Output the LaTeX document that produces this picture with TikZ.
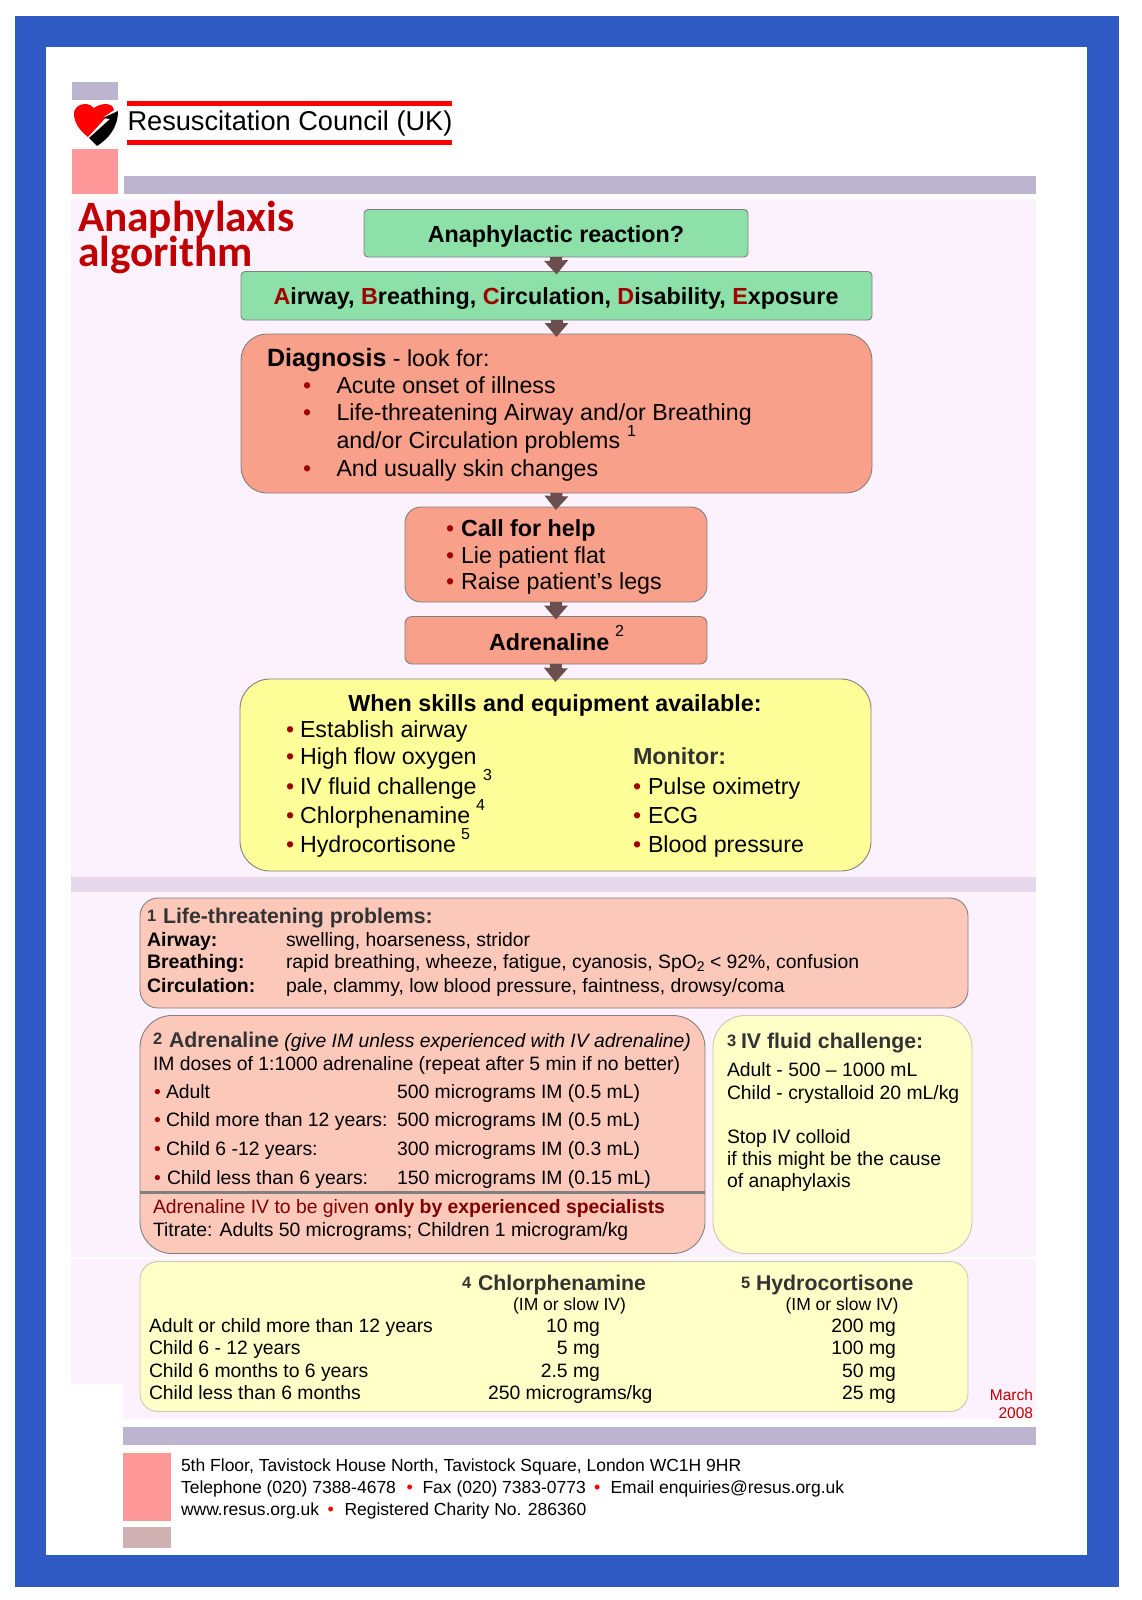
\documentclass[tikz,border=0pt]{standalone}
\usepackage{fontspec}
\setmainfont{Liberation Sans}
\newfontfamily\titlefont{Carlito}
\usetikzlibrary{arrows.meta}
\definecolor{frameblue}{HTML}{2F5AC3}
\definecolor{lav}{HTML}{BDB5D0}
\definecolor{pinkbar}{HTML}{FF9999}
\definecolor{rose}{HTML}{D0B2B2}
\definecolor{bgpink}{HTML}{FBF2FE}
\definecolor{sepbar}{HTML}{E6D8EA}
\definecolor{grn}{HTML}{8DE0A8}
\definecolor{salmon}{HTML}{F9A08A}
\definecolor{yel}{HTML}{FFFF99}
\definecolor{lsalmon}{HTML}{FBC8BA}
\definecolor{lyel}{HTML}{FFFFC8}
\definecolor{dred}{HTML}{A00000}
\definecolor{tred}{HTML}{C00000}
\definecolor{arrowc}{HTML}{6B4F4F}
\definecolor{dgray}{HTML}{333333}
\definecolor{lborder}{HTML}{C8C8B4}
\tikzset{
  box/.style={draw=black!50,line width=0.9pt,anchor=north west,inner sep=0pt,outer sep=0pt},
  flow/.style={draw=arrowc,line width=12pt,-{Triangle[width=23pt,length=14pt,fill=arrowc]},shorten >=-3pt},
  tl/.style={anchor=base west,inner sep=0pt,outer sep=0pt,text=black},
  tc/.style={tl,anchor=base},
  tr/.style={tl,anchor=base east},
  big/.style={font=\fontsize{23.2}{27}\selectfont},
  bigb/.style={font=\bfseries\fontsize{23.3}{26}\selectfont},
  mid/.style={font=\fontsize{19.35}{23}\selectfont},
  midb/.style={font=\bfseries\fontsize{19.5}{23}\selectfont},
  head/.style={text=dgray,font=\bfseries\fontsize{21.3}{25}\selectfont},
  num/.style={text=dgray,font=\bfseries\fontsize{16.5}{18}\selectfont},
  sml/.style={font=\fontsize{17.5}{21}\selectfont},
  smlb/.style={text=red,font=\fontsize{18}{21}\selectfont},
  sup/.style={font=\fontsize{16}{18}\selectfont},
  blt/.style={text=dred},
  ttl/.style={tl,text=tred,font=\titlefont\bfseries\fontsize{43.3}{46}\selectfont},
}
\begin{document}
\begin{tikzpicture}[x=1pt,y=-1pt]
\useasboundingbox (0,0) rectangle (1142,1600);
% frame
\fill[frameblue] (15,16) rectangle (1119,1587);
\fill[white] (46,47) rectangle (1087,1555);
% background panels
\fill[bgpink] (71,199) rectangle (1036,1384);
\fill[bgpink] (123,1384) rectangle (1036,1419);
\fill[white] (71,1257) rectangle (1036,1259);
\fill[sepbar] (71,877) rectangle (1036,892);
% bars
\fill[lav] (72,82) rectangle (118,100);
\fill[pinkbar] (72,149) rectangle (118,194);
\fill[lav] (124,176) rectangle (1036,194);
\fill[lav] (123,1427) rectangle (1036,1445);
\fill[pinkbar] (123,1453) rectangle (171,1521);
\fill[rose] (123,1527) rectangle (171,1548);
% logo
\fill[red] (88,137) .. controls (79,130) and (74,122) .. (74,114) .. controls (74,107) and (80,104) .. (85,104) .. controls (89,104) and (92,106) .. (94,108) .. controls (98,105) and (102,104) .. (107,104) .. controls (110,104) and (113,106) .. (114,110) -- (103,117.5) -- (105,118.5) -- cycle;
\fill[black] (89,138) -- (97,146) .. controls (108,139) and (118,128) .. (118,111) -- (103,118) -- (110,119) -- cycle;
\fill[red] (127,101) rectangle (452,106);
\fill[red] (127,140) rectangle (452,145);
\node[tl,font=\fontsize{27.2}{30}\selectfont] (rc) at (127.5,131) {Resuscitation Council (UK)};
% title
\node[ttl] (title1) at (78,231) {Anaphylaxis};
\node[ttl] (title2) at (78,266) {algorithm};
% flow boxes
\node[box,fill=grn,rounded corners=4pt,minimum width=384pt,minimum height=47.5pt] (react) at (364,209.5) {};
\node[box,fill=grn,rounded corners=4pt,minimum width=631pt,minimum height=48.5pt] (abc) at (241,271.5) {};
\node[box,fill=salmon,rounded corners=26pt,minimum width=631pt,minimum height=159pt] (diag) at (241,334) {};
\node[box,fill=salmon,rounded corners=16pt,minimum width=302pt,minimum height=95pt] (call) at (405,507) {};
\node[box,fill=salmon,rounded corners=7pt,minimum width=302pt,minimum height=47.5pt] (adr) at (405,616.5) {};
\node[box,fill=yel,rounded corners=30pt,minimum width=631pt,minimum height=192pt] (skills) at (240,679) {};
\draw[flow] (react.south) -- (abc.north);
\draw[flow] (abc.south) -- (diag.north);
\draw[flow] (diag.south) -- (call.north);
\draw[flow] (call.south) -- (adr.north);
\draw[flow] (adr.south) -- (skills.north);
% notes boxes
\node[box,fill=lsalmon,rounded corners=18pt,minimum width=828pt,minimum height=110pt] (n1) at (140,898) {};
\node[box,fill=lsalmon,rounded corners=32pt,minimum width=565pt,minimum height=238pt] (n2) at (140,1015.5) {};
\node[box,fill=lyel,draw=lborder,rounded corners=32pt,minimum width=259pt,minimum height=238pt] (n3) at (713,1015.5) {};
\node[box,fill=lyel,draw=lborder,rounded corners=18pt,minimum width=828pt,minimum height=150pt] (n4) at (140,1261.5) {};
\draw[draw=black!50,line width=3pt] (n2.west |- 0,1192) coordinate (ruleL) -- (n2.east |- 0,1192) coordinate (ruleR);
% flow text
\node[tc,bigb] (t1) at (556,242.5) {Anaphylactic reaction?};
\node[tc,bigb] (t2) at (556,304.5) {\textcolor{dred}{A}irway, \textcolor{dred}{B}reathing, \textcolor{dred}{C}irculation, \textcolor{dred}{D}isability, \textcolor{dred}{E}xposure};
\node[tl,big] (d0) at (267,366) {\textbf{\fontsize{25}{28}\selectfont Diagnosis} - look for:};
\node[tl,big,blt] (d1b) at (303,393) {•};
\node[tl,big] (d1) at (336.5,393) {Acute onset of illness};
\node[tl,big,blt] (d2b) at (303,420) {•};
\node[tl,big] (d2) at (336.5,420) {Life-threatening Airway and/or Breathing};
\node[tl,big] (d3) at (336.5,448.5) {and/or Circulation problems};
\node[tl,sup] (d3s) at (627,436) {1};
\node[tl,big,blt] (d4b) at (303,476) {•};
\node[tl,big] (d4) at (336.5,476) {And usually skin changes};
\node[tl,big,blt] (c1b) at (446,536.5) {•};
\node[tl,bigb] (c1) at (461,536.5) {Call for help};
\node[tl,big,blt] (c2b) at (446,563.5) {•};
\node[tl,big] (c2) at (461,563.5) {Lie patient flat};
\node[tl,big,blt] (c3b) at (446,589.5) {•};
\node[tl,big] (c3) at (461,589.5) {Raise patient’s legs};
\node[tl,bigb] (a0) at (489,650) {Adrenaline};
\node[tl,sup] (a0s) at (615,636) {2};
\node[tc,bigb] (s0) at (555,711) {When skills and equipment available:};
\node[tl,big,blt] (s1b) at (286,737) {•};
\node[tl,big] (s1) at (300,737) {Establish airway};
\node[tl,big,blt] (s2b) at (286,764) {•};
\node[tl,big] (s2) at (300,764) {High flow oxygen};
\node[tl,big,blt] (s3b) at (286,794) {•};
\node[tl,big] (s3) at (300,794) {IV fluid challenge};
\node[tl,sup] (s3s) at (483,780) {3};
\node[tl,big,blt] (s4b) at (286,823.5) {•};
\node[tl,big] (s4) at (300,823.5) {Chlorphenamine};
\node[tl,sup] (s4s) at (476,810) {4};
\node[tl,big,blt] (s5b) at (286,852) {•};
\node[tl,big] (s5) at (300,852) {Hydrocortisone};
\node[tl,sup] (s5s) at (461,839) {5};
\node[tl,text=dgray,bigb] (m0) at (633,764) {Monitor:};
\node[tl,big,blt] (m1b) at (633,794) {•};
\node[tl,big] (m1) at (648,794) {Pulse oximetry};
\node[tl,big,blt] (m2b) at (633,823.5) {•};
\node[tl,big] (m2) at (648,823.5) {ECG};
\node[tl,big,blt] (m3b) at (633,852) {•};
\node[tl,big] (m3) at (648,852) {Blood pressure};
% note 1
\node[tl,num] (n1n) at (147,921) {1};
\node[tl,head] (n1t) at (163,923) {Life-threatening problems:};
\node[tl,midb] (n1a) at (147,946) {Airway:};
\node[tl,mid] (n1av) at (286,946) {swelling, hoarseness, stridor};
\node[tl,midb] (n1b) at (147,968.5) {Breathing:};
\node[tl,mid] (n1bv) at (286,968.5) {rapid breathing, wheeze, fatigue, cyanosis, SpO\raisebox{-3pt}{\fontsize{14}{16}\selectfont 2} < 92\%, confusion};
\node[tl,midb] (n1c) at (147,992) {Circulation:};
\node[tl,mid] (n1cv) at (286,992) {pale, clammy, low blood pressure, faintness, drowsy/coma};
% note 2
\node[tl,num] (n2n) at (153,1044) {2};
\node[tl,mid] (n2t) at (169,1047) {\textcolor{dgray}{\bfseries\fontsize{21.3}{25}\selectfont Adrenaline} \textit{(give IM unless experienced with IV adrenaline)}};
\node[tl,mid] (n2i) at (153,1070) {IM doses of 1:1000 adrenaline (repeat after 5 min if no better)};
\node[tl,mid,blt] (n2ab) at (154,1098) {•};
\node[tl,mid] (n2a) at (166,1098) {Adult};
\node[tl,mid] (n2av) at (397,1098) {500 micrograms IM (0.5 mL)};
\node[tl,mid,blt] (n2bb) at (154,1126) {•};
\node[tl,mid] (n2b) at (166,1126) {Child more than 12 years:};
\node[tl,mid] (n2bv) at (397,1126) {500 micrograms IM (0.5 mL)};
\node[tl,mid,blt] (n2cb) at (154,1155) {•};
\node[tl,mid] (n2c) at (166,1155) {Child 6 -12 years:};
\node[tl,mid] (n2cv) at (397,1155) {300 micrograms IM (0.3 mL)};
\node[tl,mid,blt] (n2db) at (154,1184) {•};
\node[tl,mid] (n2d) at (167,1184) {Child less than 6 years:};
\node[tl,mid] (n2dv) at (397,1184) {150 micrograms IM (0.15 mL)};
\node[tl,mid,text=dred!80!black] (n2e) at (153,1213) {Adrenaline IV to be given \textbf{only by experienced specialists}};
\node[tl,mid] (n2f) at (153,1236) {Titrate: Adults 50 micrograms; Children 1 microgram/kg};
% note 3
\node[tl,num] (n3n) at (727,1046) {3};
\node[tl,head] (n3t) at (741,1048) {IV fluid challenge:};
\node[tl,mid] (n3a) at (727,1076) {Adult - 500 – 1000 mL};
\node[tl,mid] (n3b) at (727,1099) {Child - crystalloid 20 mL/kg};
\node[tl,mid] (n3c) at (727,1143) {Stop IV colloid};
\node[tl,mid] (n3e) at (727,1165) {if this might be the cause};
\node[tl,mid] (n3d) at (727,1187) {of anaphylaxis};
% note 4-5
\node[tl,num] (n4n) at (462,1288) {4};
\node[tl,head] (n4t) at (478,1290) {Chlorphenamine};
\node[tl,num] (n5n) at (741,1288) {5};
\node[tl,head] (n5t) at (756,1290) {Hydrocortisone};
\node[tc,sml] (n4r) at (569.5,1310) {(IM or slow IV)};
\node[tc,sml] (n5r) at (842,1310) {(IM or slow IV)};
\node[tl,mid] (r1) at (149,1332) {Adult or child more than 12 years};
\node[tl,mid] (r2) at (149,1354) {Child 6 - 12 years};
\node[tl,mid] (r3) at (149,1377) {Child 6 months to 6 years};
\node[tl,mid] (r4) at (149,1399) {Child less than 6 months};
\node[tr,mid] (r1a) at (600,1332) {10 mg};
\node[tr,mid] (r2a) at (600,1354) {5 mg};
\node[tr,mid] (r3a) at (600,1377) {2.5 mg};
\node[tl,mid] (r4a) at (488,1399) {250 micrograms/kg};
\node[tr,mid] (r1b) at (896,1332) {200 mg};
\node[tr,mid] (r2b) at (896,1354) {100 mg};
\node[tr,mid] (r3b) at (896,1377) {50 mg};
\node[tr,mid] (r4b) at (896,1399) {25 mg};
% date
\node[tr,text=tred,font=\fontsize{15.5}{18}\selectfont] (mar) at (1033,1400) {March};
\node[tr,text=tred,font=\fontsize{15.5}{18}\selectfont] (yr) at (1033,1418) {2008};
% footer
\node[tl,sml] (f1) at (181,1471.5) {5th Floor, Tavistock House North, Tavistock Square, London WC1H 9HR};
\node[tl,sml] (f2) at (181,1493.5) {Telephone (020) 7388-4678};
\node[tl,smlb] (f2b) at (406.5,1493.5) {•};
\node[tl,sml] (f2c) at (422.5,1493.5) {Fax (020) 7383-0773};
\node[tl,smlb] (f2d) at (594,1493.5) {•};
\node[tl,sml] (f2e) at (610.5,1493.5) {Email enquiries@resus.org.uk};
\node[tl,sml] (f3) at (181,1515.5) {www.resus.org.uk};
\node[tl,smlb] (f3b) at (327.5,1515.5) {•};
\node[tl,sml] (f3c) at (344.5,1515.5) {Registered Charity No. 286360};
\end{tikzpicture}
\end{document}
